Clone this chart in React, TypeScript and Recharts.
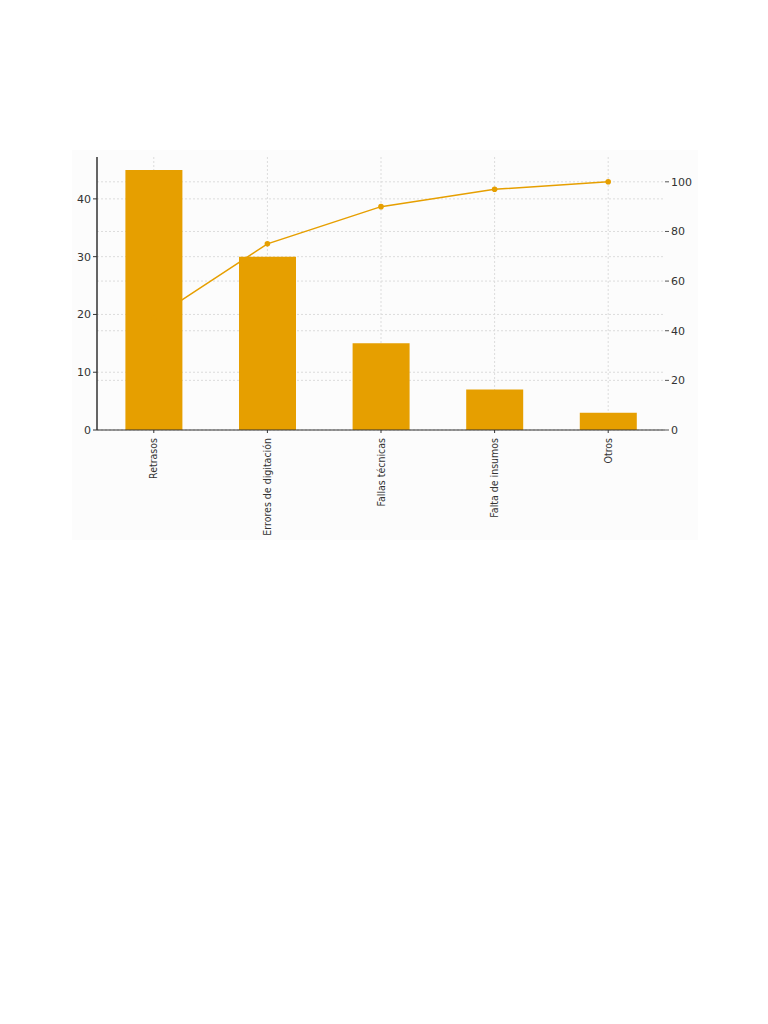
import React from 'react';
import { ComposedChart, Bar, Line, XAxis, YAxis, CartesianGrid } from 'recharts';

const categories = ['Retrasos', 'Errores de digitación', 'Fallas técnicas', 'Falta de insumos', 'Otros'];
const counts = [45, 30, 15, 7, 3];
const cumulativePct = [45, 75, 90, 97, 100];
const leftTicks = [0, 10, 20, 30, 40];
const rightTicks = [0, 20, 40, 60, 80, 100];

const data = categories.map((name, i) => ({ name, count: counts[i], cum: cumulativePct[i] }));

const ORANGE = '#E69F00';

const CategoryTick = (props: any) => {
  const { x, y, payload } = props;
  return (
    <text
      transform={`translate(${x},${y + 3}) rotate(-90)`}
      textAnchor="end"
      dy="0.35em"
      fontSize={10.5}
      fontFamily="'DejaVu Sans Condensed', 'DejaVu Sans', sans-serif"
      fill="#333"
    >
      {payload.value}
    </text>
  );
};

export default function App() {
  return (
    <div
      style={{
        position: 'absolute',
        left: 72,
        top: 150,
        width: 626,
        height: 390,
        background: '#fcfcfc',
      }}
    >
      <ComposedChart
        width={626}
        height={390}
        data={data}
        margin={{ top: 7, right: 0, bottom: 0, left: 0 }}
        barCategoryGap="25%"
        style={{ fontFamily: "'DejaVu Sans', sans-serif" }}
      >
        {/* dotted grid: verticals at categories, horizontals at both axes' ticks */}
        <CartesianGrid
          yAxisId="left"
          stroke="#dcdcdc"
          strokeDasharray="2 2"
          horizontalValues={leftTicks}
          verticalValues={categories}
        />
        <CartesianGrid
          yAxisId="right"
          stroke="#dcdcdc"
          strokeDasharray="2 2"
          vertical={false}
          horizontalValues={rightTicks}
        />
        <XAxis
          dataKey="name"
          interval={0}
          height={110}
          tickSize={3}
          stroke="#333"
          axisLine={{ stroke: '#333', strokeWidth: 1.2 }}
          tick={<CategoryTick />}
        />
        <YAxis
          yAxisId="left"
          width={25}
          domain={[0, 47.25]}
          ticks={leftTicks}
          tickSize={4}
          tickMargin={2}
          axisLine={{ stroke: '#333', strokeWidth: 1.5 }}
          tickLine={{ stroke: '#333' }}
          tick={{ fill: '#333', fontSize: 11 }}
        />
        <YAxis
          yAxisId="right"
          orientation="right"
          width={33}
          domain={[0, 110]}
          ticks={rightTicks}
          tickSize={4}
          tickMargin={2}
          axisLine={false}
          tickLine={{ stroke: '#555' }}
          tick={{ fill: '#333', fontSize: 11 }}
        />
        <Line
          yAxisId="right"
          dataKey="cum"
          stroke={ORANGE}
          strokeWidth={1.5}
          dot={{ r: 2.8, fill: ORANGE, stroke: ORANGE, strokeWidth: 0 }}
          isAnimationActive={false}
          zIndex={100}
        />
        <Bar yAxisId="left" dataKey="count" fill={ORANGE} isAnimationActive={false} zIndex={300} />
      </ComposedChart>
    </div>
  );
}
